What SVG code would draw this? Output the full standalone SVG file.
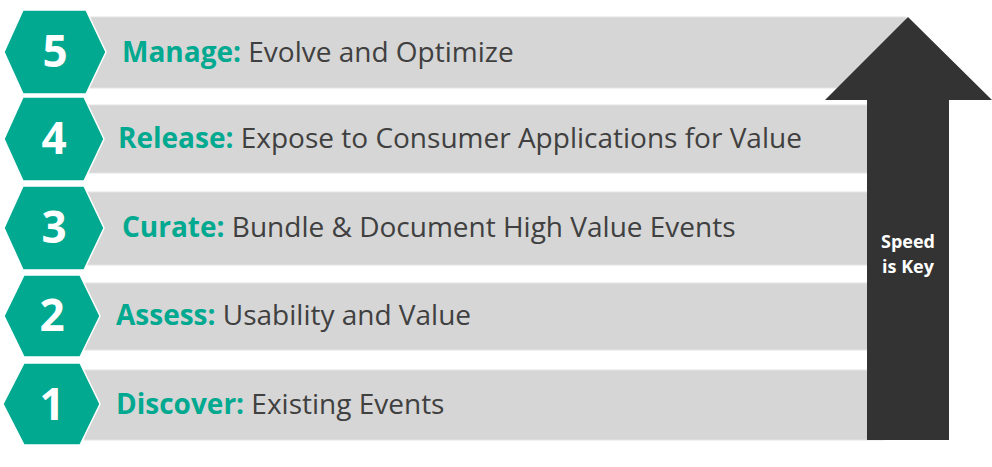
<svg xmlns="http://www.w3.org/2000/svg" width="992" height="467" viewBox="0 0 992 467">
<style>
.bar{fill:#d6d6d6;stroke:#e4e4e4;stroke-width:1}
.hex{fill:#00a98f;stroke:#ffffff;stroke-width:1.5}
.num{font-family:"Open Sans",sans-serif;font-weight:bold;font-size:44px;fill:#ffffff;text-anchor:middle}
.lbl{font-family:"Open Sans",sans-serif;font-size:28px;fill:#404040}
.key{font-weight:bold;fill:#00a98f}
.spd{font-family:"Open Sans",sans-serif;font-weight:bold;font-size:18px;fill:#ffffff;text-anchor:middle}
</style>
<rect width="992" height="467" fill="#ffffff"/>
<g id="step5">
<rect class="bar" x="88" y="17" width="818" height="71"/>
<polygon class="hex" points="4,52 23,10 86,10 106,52 86,94 23,94"/>
<text class="num" x="55" y="67">5</text>
<text class="lbl" x="122" y="62"><tspan class="key">Manage:</tspan> Evolve and Optimize</text>
</g>
<g id="step4">
<rect class="bar" x="86" y="105" width="800" height="68"/>
<polygon class="hex" points="4,139 23,97 84,97 104,139 84,181 23,181"/>
<text class="num" x="54" y="154">4</text>
<text class="lbl" x="118" y="148"><tspan class="key">Release:</tspan> Expose to Consumer Applications for Value</text>
</g>
<g id="step3">
<rect class="bar" x="86" y="192" width="800" height="73"/>
<polygon class="hex" points="4,228 23,186 84,186 104,228 84,270 23,270"/>
<text class="num" x="54" y="243">3</text>
<text class="lbl" x="122" y="237"><tspan class="key">Curate:</tspan> Bundle &amp; Document High Value Events</text>
</g>
<g id="step2">
<rect class="bar" x="84" y="283" width="800" height="67"/>
<polygon class="hex" points="4,316 24,275 80,275 100,316 80,357 24,357"/>
<text class="num" x="52" y="331">2</text>
<text class="lbl" x="116" y="325"><tspan class="key">Assess:</tspan> Usability and Value</text>
</g>
<g id="step1">
<rect class="bar" x="84" y="370" width="800" height="70"/>
<polygon class="hex" points="3,404 24,363 80,363 100,404 80,445 24,445"/>
<text class="num" x="52" y="420">1</text>
<text class="lbl" x="116" y="414"><tspan class="key">Discover:</tspan> Existing Events</text>
</g>
<g id="arrow">
<polygon points="908,17 992,100 949,100 949,440 867,440 867,100 825,100" fill="#333333"/>
<text class="spd" x="908" y="248">Speed</text>
<text class="spd" x="908" y="273">is Key</text>
</g>
</svg>
